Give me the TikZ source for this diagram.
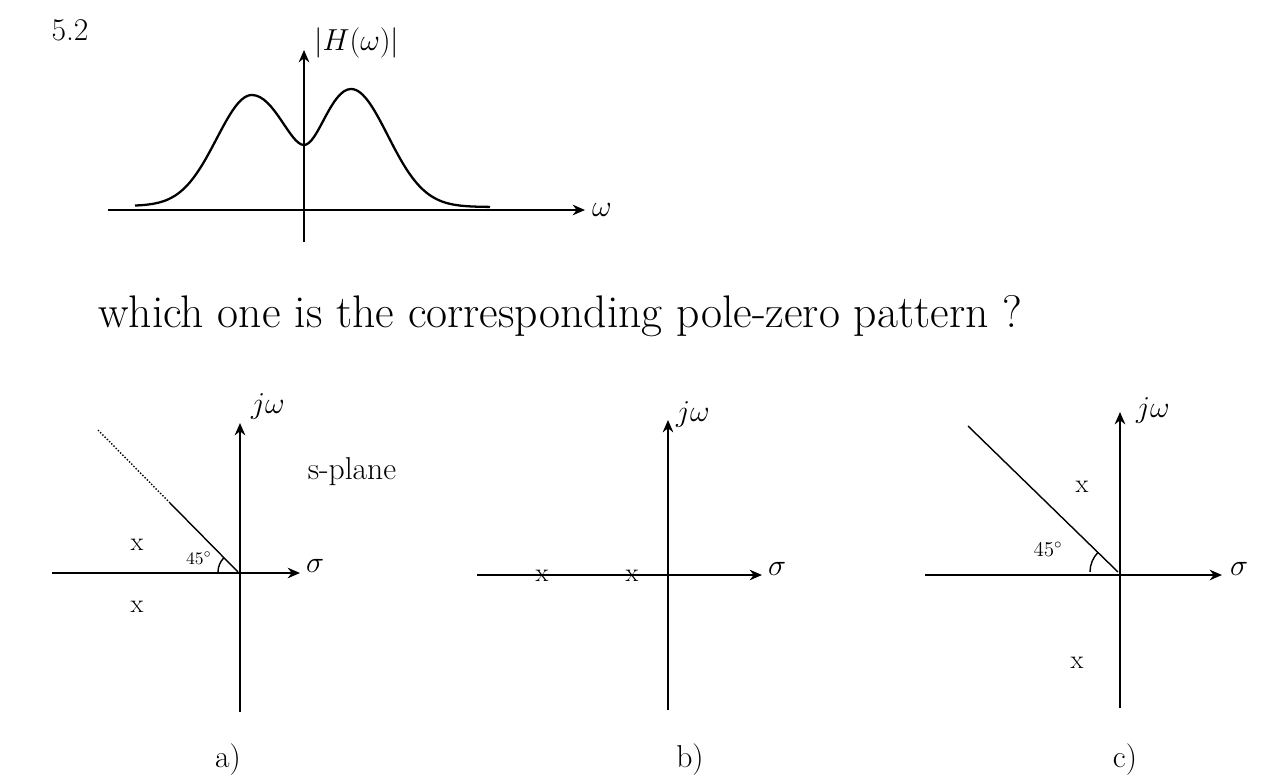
\documentclass[tikz,border=0pt]{standalone}
\usetikzlibrary{arrows.meta}
\begin{document}
\begin{tikzpicture}[x=0.02cm,y=-0.02cm,
  axis/.style={line width=1.1pt,-{Stealth[length=7pt,width=6pt]}},
  curve/.style={line width=1.3pt,line join=round},
  guide/.style={line width=0.8pt},
  lbl/.style={inner sep=1pt,font=\fontsize{16}{19}\selectfont},
  big/.style={inner sep=1pt,font=\fontsize{18}{21}\selectfont},
  pole/.style={inner sep=0pt,font=\fontsize{15}{18}\selectfont}]
\useasboundingbox (0,0) rectangle (1276,781);
% ---- top plot
\node[big] (num) at (70,30) {5.2};
\coordinate (hL) at (108,210);
\coordinate (hR) at (585,210);
\coordinate (vB) at (304,242);
\coordinate (vT) at (304,50);
\draw[axis] (hL) -- (hR);
\draw[axis] (vB) -- (vT);
\node[lbl,anchor=west] (w) at (590,210) {$\omega$};
\node[lbl,anchor=south west] (H) at (312,60) {$|H(\omega)|$};
\draw[curve] plot[domain=135:252,samples=60,smooth] (\x,{210-4-111*exp(-((\x-252)/50)*((\x-252)/50))})
  .. controls (274,95) and (290,145) .. (304,145)
  .. controls (318,145) and (331,89) .. (351,89)
  -- plot[domain=351:490,samples=60,smooth] (\x,{210-3-118*exp(-((\x-351)/52)*((\x-351)/52))});
% ---- question
\node[font=\fontsize{26}{30}\selectfont,anchor=west] (q) at (92,316) {which one is the corresponding pole-zero pattern ?};
% ---- panel a
\coordinate (aL) at (52,573);
\coordinate (aR) at (300,573);
\coordinate (aB) at (240,712);
\coordinate (aT) at (240,423);
\coordinate (aO) at (238,572);
\coordinate (aD) at (98,430);
\coordinate (aM) at (170,503);
\draw[axis] (aL) -- (aR);
\draw[axis] (aB) -- (aT);
\draw[guide] (aO) -- (aM);
\draw[guide,densely dotted] (aM) -- (aD);
\draw[guide] ([shift={(180:20)}]aO) arc[start angle=180,end angle=225,radius=20];
\node[font=\fontsize{10}{12}\selectfont] (a45) at (199,558) {$45^\circ$};
\node[lbl,anchor=west] (asig) at (304,566) {$\sigma$};
\node[lbl] (ajw) at (268,406) {$j\omega$};
\node[big] (asp) at (352,472) {s-plane};
\node[pole] (ax1) at (137,545) {x};
\node[pole] (ax2) at (137,607) {x};
\node[big] (alab) at (228,760) {a)};
% ---- panel b
\coordinate (bL) at (477,575);
\coordinate (bR) at (762,575);
\coordinate (bB) at (668,710);
\coordinate (bT) at (668,420);
\draw[axis] (bL) -- (bR);
\draw[axis] (bB) -- (bT);
\node[lbl,anchor=west] (bsig) at (766,569) {$\sigma$};
\node[lbl] (bjw) at (693,414) {$j\omega$};
\node[pole] (bx1) at (542,576) {x};
\node[pole] (bx2) at (632,576) {x};
\node[big] (blab) at (690,760) {b)};
% ---- panel c
\coordinate (cL) at (925,575);
\coordinate (cR) at (1222,575);
\coordinate (cB) at (1120,708);
\coordinate (cT) at (1120,412);
\coordinate (cO) at (1118,572);
\coordinate (cD) at (968,426);
\draw[axis] (cL) -- (cR);
\draw[axis] (cB) -- (cT);
\draw[guide] (cO) -- (cD);
\draw[guide] ([shift={(180:28)}]cO) arc[start angle=180,end angle=225,radius=28];
\node[font=\fontsize{12}{14}\selectfont] (c45) at (1048,549) {$45^\circ$};
\node[lbl,anchor=west] (csig) at (1228,569) {$\sigma$};
\node[lbl] (cjw) at (1153,410) {$j\omega$};
\node[pole] (cx1) at (1082,487) {x};
\node[pole] (cx2) at (1077,663) {x};
\node[big] (clab) at (1125,760) {c)};
\end{tikzpicture}
\end{document}
